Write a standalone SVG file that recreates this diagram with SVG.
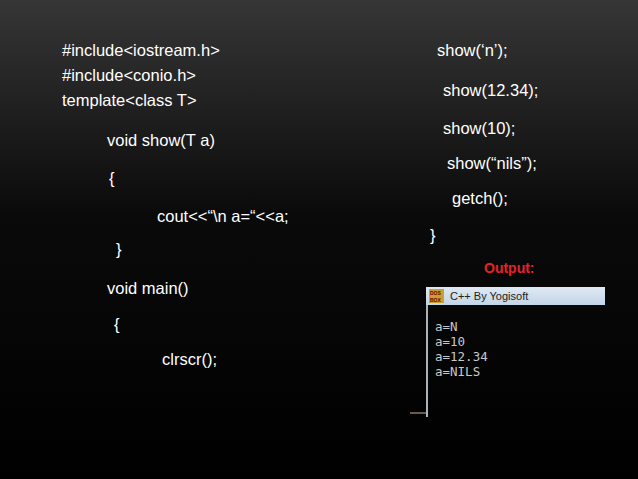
<svg xmlns="http://www.w3.org/2000/svg" width="638" height="479" viewBox="0 0 638 479">
<defs>
<linearGradient id="bg" x1="0" y1="0" x2="0" y2="1">
<stop offset="0" stop-color="#363636"/>
<stop offset="0.45" stop-color="#0a0a0a"/>
<stop offset="1" stop-color="#000"/>
</linearGradient>
<linearGradient id="tb" x1="0" y1="0" x2="0" y2="1">
<stop offset="0" stop-color="#dfe9f3"/>
<stop offset="1" stop-color="#c3d5e8"/>
</linearGradient>
</defs>
<style>
.c{font-family:"Liberation Sans",Arial,sans-serif;font-size:16.5px;fill:#fff}
.m{font-family:"DejaVu Sans Mono","Liberation Mono",monospace;font-size:12.5px;fill:#c8c8c8}
</style>
<rect width="638" height="479" fill="url(#bg)"/>
<g id="code-left">
<text class="c" x="62" y="56">#include&lt;iostream.h&gt;</text>
<text class="c" x="62" y="81">#include&lt;conio.h&gt;</text>
<text class="c" x="62" y="106">template&lt;class T&gt;</text>
<text class="c" x="107" y="146">void show(T a)</text>
<text class="c" x="109" y="184">{</text>
<text class="c" x="157" y="222">cout&lt;&lt;“\n a=“&lt;&lt;a;</text>
<text class="c" x="116" y="255">}</text>
<text class="c" x="107" y="294">void main()</text>
<text class="c" x="114" y="330">{</text>
<text class="c" x="162" y="365">clrscr();</text>
</g>
<g id="code-right">
<text class="c" x="437" y="56">show(‘n’);</text>
<text class="c" x="443" y="96">show(12.34);</text>
<text class="c" x="443" y="134">show(10);</text>
<text class="c" x="447" y="169">show(“nils”);</text>
<text class="c" x="452" y="204">getch();</text>
<text class="c" x="430" y="241">}</text>
</g>
<g id="output">
<text x="484" y="273" font-family="Liberation Sans,Arial,sans-serif" font-size="14" font-weight="bold" fill="#e8202a">Output:</text>
<rect x="426" y="287" width="179" height="18" fill="url(#tb)"/>
<rect x="429" y="289" width="15" height="14" fill="#c9a030"/>
<text x="430" y="295" font-family="Liberation Sans,sans-serif" font-size="5" font-weight="bold" fill="#600">DOS</text>
<text x="430" y="302" font-family="Liberation Sans,sans-serif" font-size="5" font-weight="bold" fill="#600">BOX</text>
<text x="450" y="300" font-family="Liberation Sans,Arial,sans-serif" font-size="11" fill="#222">C++ By Yogisoft</text>
<rect x="426" y="305" width="2" height="112" fill="#aab2ba"/>
<rect x="410" y="412" width="16" height="2" fill="#6a5a4a"/>
<text class="m" x="435" y="331">a=N</text>
<text class="m" x="435" y="346">a=10</text>
<text class="m" x="435" y="361">a=12.34</text>
<text class="m" x="435" y="376">a=NILS</text>
</g>
</svg>
